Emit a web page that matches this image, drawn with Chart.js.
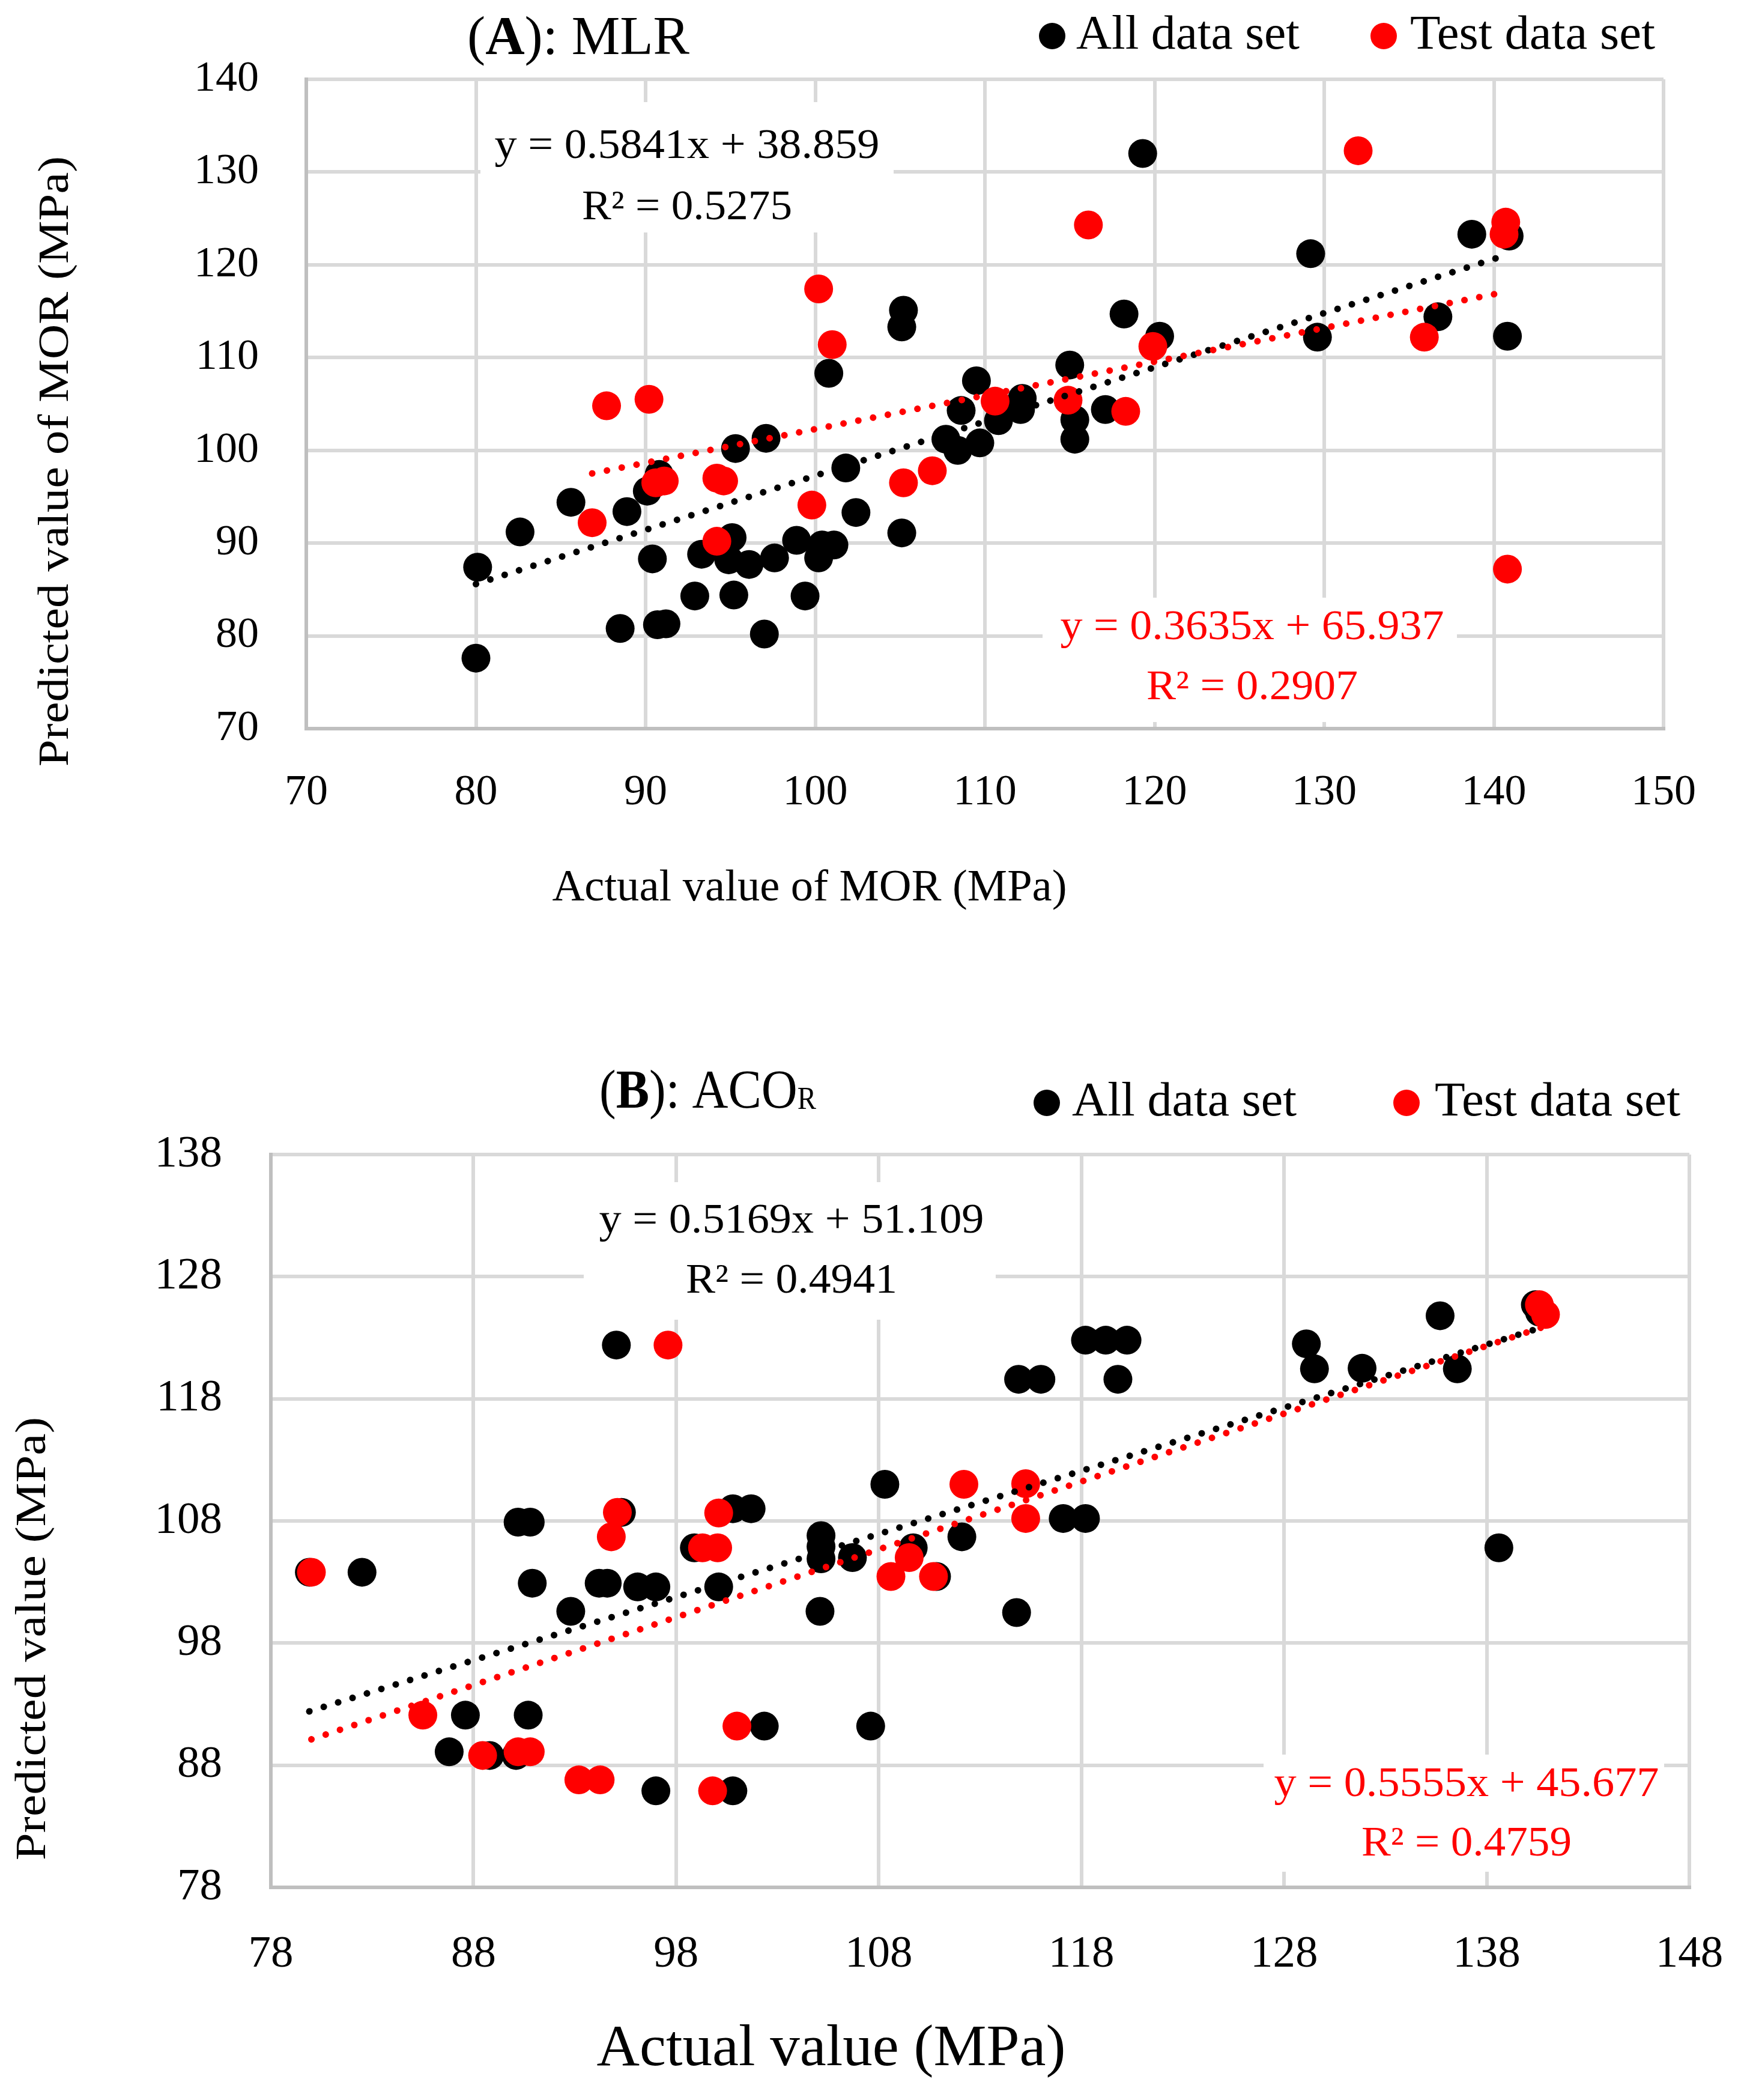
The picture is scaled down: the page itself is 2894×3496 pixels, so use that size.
<!DOCTYPE html>
<html>
<head>
<meta charset="utf-8">
<script src="https://cdn.jsdelivr.net/npm/chart.js@4.4.1/dist/chart.umd.min.js"></script>
<style>
  html, body { margin: 0; padding: 0; background: #fff; }
  body { width: 2894px; height: 3496px; position: relative; overflow: hidden; }
  canvas { position: absolute; left: 0; }
  #chartA { top: 0; width: 2894px; height: 1650px; }
  #chartB { top: 1700px; width: 2894px; height: 1796px; }
</style>
</head>
<body>
<canvas id="chartA" width="2894" height="1650"></canvas>
<canvas id="chartB" width="2894" height="1796"></canvas>
<script>
// ---- data ----
// panel A (MLR): [actual, predicted]
const mlrAll = [
  [80.1, 87.4], [80.0, 77.6], [82.6, 91.2], [85.6, 94.4], [88.5, 80.8], [88.9, 93.4],
  [90.1, 95.6], [90.4, 88.3], [90.8, 97.4], [90.7, 81.2], [91.2, 81.3], [92.9, 84.3],
  [93.3, 88.8], [94.9, 88.2], [95.1, 90.6], [95.2, 84.4], [95.3, 100.2], [96.1, 87.7],
  [97.1, 101.3], [97.0, 80.2], [97.6, 88.4], [98.9, 90.3], [99.4, 84.3], [100.2, 88.4],
  [100.4, 89.8], [101.1, 89.8], [100.8, 108.3], [101.8, 98.1], [102.4, 93.3], [105.2, 115.1],
  [105.1, 113.3], [105.1, 91.1], [107.7, 101.2], [108.4, 100.0], [108.6, 104.3], [109.5, 107.5],
  [109.7, 100.8], [110.8, 103.2], [112.1, 104.4], [112.2, 105.6], [115.0, 109.2], [115.3, 103.3],
  [115.3, 101.2], [117.1, 104.4], [118.2, 114.7], [119.3, 132.0], [120.3, 112.3], [129.2, 121.2],
  [129.6, 112.2], [136.7, 114.4], [138.7, 123.3], [140.9, 123.1], [140.8, 112.3]
];
const mlrTest = [
  [86.85, 92.2], [87.7, 104.8], [90.2, 105.5], [90.6, 96.5], [91.1, 96.7], [94.2, 90.2],
  [94.2, 97.0], [94.6, 96.7], [99.8, 94.1], [100.2, 117.4], [101.0, 111.4], [105.2, 96.5],
  [106.9, 97.8], [110.6, 105.3], [114.9, 105.4], [116.1, 124.3], [118.3, 104.2], [119.9, 111.2],
  [132.0, 132.3], [135.9, 112.2], [140.7, 124.6], [140.6, 123.3], [140.8, 87.2]
];
// panel B (ACOR)
const acoAll = [
  [79.9, 103.8], [82.5, 103.8], [86.8, 89.1], [87.6, 92.1], [88.8, 88.8], [90.1, 88.8],
  [90.2, 107.9], [90.8, 107.9], [90.7, 92.1], [90.9, 102.9], [92.8, 100.6], [94.2, 102.9],
  [94.6, 102.9], [95.05, 122.4], [95.3, 108.7], [96.1, 102.6], [97.0, 102.6], [97.0, 85.9],
  [98.9, 105.8], [100.1, 102.6], [100.8, 85.9], [100.8, 109.0], [101.7, 109.0], [102.35, 91.2],
  [105.1, 100.6], [105.15, 106.8], [105.15, 105.9], [105.15, 104.9], [106.7, 105.0], [107.6, 91.2],
  [108.3, 111.0], [109.7, 105.8], [110.85, 103.45], [112.1, 106.7], [114.8, 100.5], [114.9, 119.6],
  [116.0, 119.6], [117.1, 108.2], [118.2, 108.2], [118.2, 122.8], [119.2, 122.8], [119.8, 119.6],
  [120.25, 122.8], [129.1, 122.5], [129.5, 120.45], [131.85, 120.5], [135.7, 124.8], [136.55, 120.45],
  [138.6, 105.8], [140.4, 125.7], [140.6, 125.1]
];
const acoTest = [
  [80.0, 103.8], [85.5, 92.1], [88.45, 88.8], [90.2, 89.1], [90.8, 89.1], [93.2, 86.8],
  [94.25, 86.8], [94.8, 106.7], [95.1, 108.7], [97.6, 122.4], [99.3, 105.8], [100.05, 105.8],
  [100.1, 108.65], [99.8, 85.9], [101.0, 91.2], [108.6, 103.45], [109.5, 105.0], [110.7, 103.45],
  [112.2, 111.0], [115.25, 111.05], [115.25, 108.2], [140.6, 125.7], [140.9, 124.9]
];

// trendline coefficients printed on the chart [slope, intercept]
const mlrAllFit = [0.5841, 38.859];
const mlrTestFit = [0.3635, 65.937];
const acoAllFit = [0.5169, 51.109];
const acoTestFit = [0.5555, 45.677];

// axis ranges / tick steps
const mlrXTicks = [70, 150, 10];
const mlrYTicks = [70, 140, 10];
const acoXTicks = [78, 148, 10];
const acoYTicks = [78, 138, 10];

const SERIF = '"Liberation Serif", "DejaVu Serif", serif';
const RED = '#ff0000';

function toPts(arr) { return arr.map(p => ({ x: p[0], y: p[1] })); }

function trendPts(arr, fit) {
  const xs = arr.map(p => p[0]);
  const x0 = Math.min(...xs), x1 = Math.max(...xs);
  return [{ x: x0, y: fit[0] * x0 + fit[1] }, { x: x1, y: fit[0] * x1 + fit[1] }];
}

// draw text runs, stretched to a target width
function fitText(ctx, runs, x, y, width, align) {
  let natural = 0;
  runs.forEach(r => { ctx.font = r[1]; natural += ctx.measureText(r[0]).width; });
  const sx = width ? width / natural : 1;
  ctx.save();
  ctx.translate(x, y);
  ctx.scale(sx, 1);
  let cx = align === 'center' ? -natural / 2 : 0;
  ctx.textAlign = 'left';
  ctx.textBaseline = 'middle';
  runs.forEach(r => {
    ctx.font = r[1];
    ctx.fillText(r[0], cx, r[2] || 0);
    cx += ctx.measureText(r[0]).width;
  });
  ctx.restore();
}

function makeDecor(spec) {
  return {
    id: 'decor',
    beforeDatasetsDraw(chart) {
      const ctx = chart.ctx;
      ctx.save();
      ctx.fillStyle = '#fff';
      spec.boxes.forEach(b => ctx.fillRect(b[0], b[1], b[2] - b[0], b[3] - b[1]));
      spec.equations.forEach(e => {
        ctx.fillStyle = e.color;
        fitText(ctx, [[e.text, '70px ' + SERIF]], e.x, e.y, e.w, 'center');
      });
      ctx.restore();
    },
    afterDraw(chart) {
      const ctx = chart.ctx;
      ctx.save();
      ctx.fillStyle = '#000';
      // panel title
      fitText(ctx, spec.title.runs, spec.title.x, spec.title.y, spec.title.w, 'left');
      // legend
      spec.legend.forEach(l => {
        ctx.fillStyle = l.color;
        ctx.beginPath();
        ctx.arc(l.dot, l.y, 22, 0, Math.PI * 2);
        ctx.fill();
        ctx.fillStyle = '#000';
        fitText(ctx, [[l.text, '80px ' + SERIF]], l.tx, l.y, l.w, 'left');
      });
      // axis titles
      const xt = spec.xTitle;
      fitText(ctx, [[xt.text, xt.size + 'px ' + SERIF]], xt.x, xt.y, xt.w, 'center');
      const yt = spec.yTitle;
      ctx.save();
      ctx.translate(yt.x, yt.y);
      ctx.rotate(-Math.PI / 2);
      fitText(ctx, [[yt.text, yt.size + 'px ' + SERIF]], 0, 0, yt.w, 'center');
      ctx.restore();
      ctx.restore();
    }
  };
}

// keep the plot box where the picture has it: no extra room for edge labels
function noEdgePad(s) {
  s.paddingLeft = 0; s.paddingRight = 0; s.paddingTop = 0; s.paddingBottom = 0;
}

function makeChart(id, all, test, allFit, testFit, xT, yT, geo, spec) {
  const tickFont = { family: SERIF, size: geo.tickSize };
  return new Chart(document.getElementById(id), {
    type: 'scatter',
    data: {
      datasets: [
        { label: 'All trend', type: 'line', data: trendPts(all, allFit), borderColor: '#000',
          borderWidth: 11, borderDash: [0.1, 25], borderCapStyle: 'round', pointRadius: 0, order: 1 },
        { label: 'Test trend', type: 'line', data: trendPts(test, testFit), borderColor: RED,
          borderWidth: 11, borderDash: [0.1, 25], borderCapStyle: 'round', pointRadius: 0, order: 0 },
        { label: 'All data set', data: toPts(all), backgroundColor: '#000', pointRadius: 24,
          borderWidth: 0, order: 3 },
        { label: 'Test data set', data: toPts(test), backgroundColor: RED, pointRadius: 24,
          borderWidth: 0, order: 2 }
      ]
    },
    options: {
      responsive: false,
      animation: false,
      devicePixelRatio: 1,
      events: [],
      layout: { padding: { left: 0, top: geo.top, right: geo.right, bottom: 0 } },
      plugins: { legend: { display: false }, tooltip: { enabled: false } },
      scales: {
        x: {
          type: 'linear', min: xT[0], max: xT[1],
          afterFit: s => { s.height = geo.xHeight; noEdgePad(s); },
          grid: { color: '#d9d9d9', lineWidth: 6, drawTicks: false },
          border: { color: '#bfbfbf', width: 6 },
          ticks: { stepSize: xT[2], color: '#000', font: tickFont, padding: geo.xPad, maxRotation: 0 }
        },
        y: {
          type: 'linear', min: yT[0], max: yT[1],
          afterFit: s => { s.width = geo.yWidth; noEdgePad(s); },
          grid: { color: '#d9d9d9', lineWidth: 6, drawTicks: false },
          border: { color: '#bfbfbf', width: 6 },
          ticks: { stepSize: yT[2], color: '#000', font: tickFont, padding: geo.yPad }
        }
      }
    },
    plugins: [makeDecor(spec)]
  });
}

makeChart('chartA', mlrAll, mlrTest, mlrAllFit, mlrTestFit, mlrXTicks, mlrYTicks,
  { top: 132, right: 124, xHeight: 437, yWidth: 510, tickSize: 72, xPad: 64, yPad: 79 },
  {
    boxes: [[800, 170, 1488, 387], [1736, 995, 2426, 1202]],
    equations: [
      { text: 'y = 0.5841x + 38.859', x: 1144, y: 245, w: 641, color: '#000' },
      { text: 'R² = 0.5275', x: 1144, y: 347, w: 350, color: '#000' },
      { text: 'y = 0.3635x + 65.937', x: 2085, y: 1046, w: 639, color: RED },
      { text: 'R² = 0.2907', x: 2085, y: 1146, w: 352, color: RED }
    ],
    title: { x: 778, y: 66, w: 370, runs: [['(', '92px ' + SERIF], ['A', 'bold 92px ' + SERIF], ['): MLR', '92px ' + SERIF]] },
    legend: [
      { color: '#000', dot: 1752, y: 60, tx: 1792, w: 372, text: 'All data set' },
      { color: RED, dot: 2304, y: 60, tx: 2348, w: 408, text: 'Test data set' }
    ],
    xTitle: { text: 'Actual value of MOR (MPa)', x: 1348, y: 1480, w: 857, size: 74 },
    yTitle: { text: 'Predicted value of MOR (MPa)', x: 94, y: 768, w: 1016, size: 72 }
  });

makeChart('chartB', acoAll, acoTest, acoAllFit, acoTestFit, acoXTicks, acoYTicks,
  { top: 222, right: 81, xHeight: 354, yWidth: 451, tickSize: 75, xPad: 67, yPad: 81 },
  {
    boxes: [[972, 268, 1658, 497], [2104, 1221, 2771, 1416]],
    equations: [
      { text: 'y = 0.5169x + 51.109', x: 1318, y: 334, w: 641, color: '#000' },
      { text: 'R² = 0.4941', x: 1318, y: 434, w: 352, color: '#000' },
      { text: 'y = 0.5555x + 45.677', x: 2442, y: 1272, w: 641, color: RED },
      { text: 'R² = 0.4759', x: 2442, y: 1371, w: 350, color: RED }
    ],
    title: { x: 998, y: 120, w: 361, runs: [['(', '92px ' + SERIF], ['B', 'bold 92px ' + SERIF], ['): ACO', '92px ' + SERIF], ['R', '52px ' + SERIF, 12]] },
    legend: [
      { color: '#000', dot: 1743, y: 136, tx: 1785, w: 374, text: 'All data set' },
      { color: RED, dot: 2342, y: 136, tx: 2389, w: 409, text: 'Test data set' }
    ],
    xTitle: { text: 'Actual value (MPa)', x: 1384, y: 1712, w: 781, size: 98 },
    yTitle: { text: 'Predicted value (MPa)', x: 56, y: 1028, w: 738, size: 72 }
  });
</script>
</body>
</html>
